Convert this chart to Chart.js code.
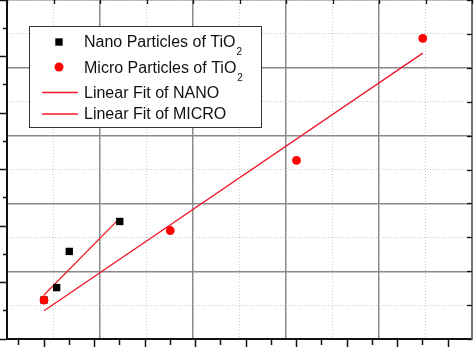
<!DOCTYPE html>
<html>
<head>
<meta charset="utf-8">
<script src="https://cdn.jsdelivr.net/npm/chart.js@4"></script>
<style>
	html, body { margin: 0; padding: 0; background: #fff; }
	#wrap { width: 474px; height: 347px; }
</style>
</head>
<body>
<div id="wrap"><canvas id="tio2_chart" width="474" height="347"></canvas></div>
<script>
// measured points (x on bottom axis, y on left axis)
const nanoX = [0, 2.5, 5, 15];
const nanoY = [0.69, 0.91, 1.55, 2.08];
const microX = [0, 25, 50, 75];
const microY = [0.69, 1.92, 3.16, 5.32];

// end points of the two linear fits
const nanoFitX = [0, 15];
const nanoFitY = [0.78, 2.14];
const microFitX = [0, 75];
const microFitY = [0.50, 5.06];

const legendLabels = ['Nano Particles of TiO', 'Micro Particles of TiO', 'Linear Fit of NANO', 'Linear Fit of MICRO'];
const legendSubs = ['2', '2', '', ''];

const fitColor = '#f01828';

function toPoints(xs, ys) {
	let pts = [];
	for (let i = 0; i < xs.length; i++) {
		pts.push({ x: xs[i], y: ys[i] });
	}
	return pts;
}

// ticks on top / right point inwards, legend sits inside the frame
const frameExtras = {
	id: 'frameExtras',
	afterDraw(chart) {
		const ctx = chart.ctx;
		const area = chart.chartArea;
		ctx.save();
		ctx.strokeStyle = '#111';
		ctx.lineWidth = 1.3;

		const top = chart.scales.xg;
		top.ticks.forEach(t => {
			const px = Math.round(top.getPixelForValue(t.value)) + 0.5;
			ctx.beginPath();
			ctx.moveTo(px, area.top);
			ctx.lineTo(px, area.top + 4);
			ctx.stroke();
		});
		const right = chart.scales.yg;
		right.ticks.forEach(t => {
			const py = Math.round(right.getPixelForValue(t.value)) + 0.5;
			ctx.beginPath();
			ctx.moveTo(area.right, py);
			ctx.lineTo(area.right - 5, py);
			ctx.stroke();
		});

		// legend box
		const bx = 29.5, by = 26.5, bw = 232, bh = 101;
		ctx.fillStyle = '#fff';
		ctx.fillRect(bx, by, bw, bh);
		ctx.strokeStyle = '#333';
		ctx.lineWidth = 1;
		ctx.strokeRect(bx, by, bw, bh);

		const rows = [42, 67, 92.5, 114];
		const mx = 59;

		// square marker
		ctx.fillStyle = '#000';
		ctx.fillRect(mx - 3.7, rows[0] - 3.7, 7.4, 7.4);
		// round marker
		ctx.fillStyle = '#ff0000';
		ctx.beginPath();
		ctx.arc(mx, rows[1], 4.5, 0, Math.PI * 2);
		ctx.fill();
		// fit lines
		[2, 3].forEach(i => {
			ctx.strokeStyle = fitColor;
			ctx.lineWidth = 1.3;
			ctx.beginPath();
			ctx.moveTo(42, rows[i]);
			ctx.lineTo(78, rows[i]);
			ctx.stroke();
		});

		ctx.fillStyle = '#111';
		ctx.textBaseline = 'alphabetic';
		const base = [46.7, 73.3, 98.3, 119.3];
		for (let i = 0; i < legendLabels.length; i++) {
			ctx.font = '16px "Liberation Sans", Arial, sans-serif';
			ctx.fillText(legendLabels[i], 84, base[i]);
			if (legendSubs[i]) {
				const w = ctx.measureText(legendLabels[i]).width;
				ctx.font = '10px "Liberation Sans", Arial, sans-serif';
				ctx.fillText(legendSubs[i], 84 + w + 1, base[i] + 8);
			}
		}
		ctx.restore();
	}
};

const majorGrid = '#8a8a8a';
const minorGrid = '#c8c8c8';

const ctx = document.getElementById('tio2_chart').getContext('2d');
const tio2_chart = new Chart(ctx, {
	type: 'scatter',
	data: {
		datasets: [{
			label: 'Nano Particles of TiO₂',
			data: toPoints(nanoX, nanoY),
			order: 1,
			pointStyle: 'rect',
			pointRadius: 5.2,
			backgroundColor: '#000',
			borderColor: '#000',
			borderWidth: 0
		}, {
			label: 'Micro Particles of TiO₂',
			data: toPoints(microX, microY),
			order: 0,
			pointStyle: 'circle',
			pointRadius: 4.4,
			backgroundColor: '#ff0000',
			borderColor: '#ff0000',
			borderWidth: 0
		}, {
			label: 'Linear Fit of NANO',
			data: toPoints(nanoFitX, nanoFitY),
			order: 2,
			showLine: true,
			pointRadius: 0,
			backgroundColor: fitColor,
			borderColor: fitColor,
			borderWidth: 1.3
		}, {
			label: 'Linear Fit of MICRO',
			data: toPoints(microFitX, microFitY),
			order: 2,
			showLine: true,
			pointRadius: 0,
			backgroundColor: fitColor,
			borderColor: fitColor,
			borderWidth: 1.3
		}]
	},
	options: {
		responsive: false,
		animation: false,
		events: [],
		layout: { autoPadding: false, padding: { left: 0, right: 2, top: 0, bottom: 0 } },
		plugins: {
			legend: { display: false },
			tooltip: { enabled: false }
		},
		scales: {
			x: {
				type: 'linear',
				position: 'bottom',
				min: -7.33,
				max: 84.75,
				ticks: { display: false, stepSize: 5, includeBounds: false, maxTicksLimit: 100 },
				grid: {
					drawOnChartArea: false,
					tickLength: 8,
					tickColor: '#111',
					tickWidth: 1.5,
					tickBorderDash: c => (c.tick && c.tick.value % 10 !== 0) ? [5, 100] : []
				},
				border: { color: '#111', width: 2 }
			},
			y: {
				type: 'linear',
				position: 'left',
				min: 0,
				max: 6,
				ticks: { display: false, stepSize: 0.5, includeBounds: false, maxTicksLimit: 100 },
				grid: {
					drawOnChartArea: false,
					tickLength: 7,
					tickColor: '#111',
					tickWidth: 1.5,
					tickBorderDash: c => (c.tick && c.tick.value % 1 !== 0) ? [0, 3, 4, 100] : []
				},
				border: { color: '#111', width: 2 }
			},
			// grid layers on the top / right axes
			xg: {
				type: 'linear', axis: 'x', position: 'top',
				min: 0, max: 10,
				ticks: { display: false, stepSize: 1 },
				grid: { color: minorGrid, lineWidth: 1, drawTicks: false },
				border: { display: false, dash: [1, 2] }
			},
			xG: {
				type: 'linear', axis: 'x', position: 'top',
				min: 0, max: 10,
				ticks: { display: false, stepSize: 2 },
				grid: { color: majorGrid, lineWidth: 1.4, drawTicks: false },
				border: { display: false }
			},
			yg: {
				type: 'linear', axis: 'y', position: 'right',
				min: 0, max: 10,
				ticks: { display: false, stepSize: 1 },
				grid: { color: minorGrid, lineWidth: 1, drawTicks: false },
				border: { display: true, color: '#777', width: 2, dash: [1, 2] }
			},
			yG: {
				type: 'linear', axis: 'y', position: 'right',
				min: 0, max: 10,
				ticks: { display: false, stepSize: 2 },
				grid: { color: majorGrid, lineWidth: 1.4, drawTicks: false },
				border: { display: false }
			}
		}
	},
	plugins: [frameExtras]
});
</script>
</body>
</html>
